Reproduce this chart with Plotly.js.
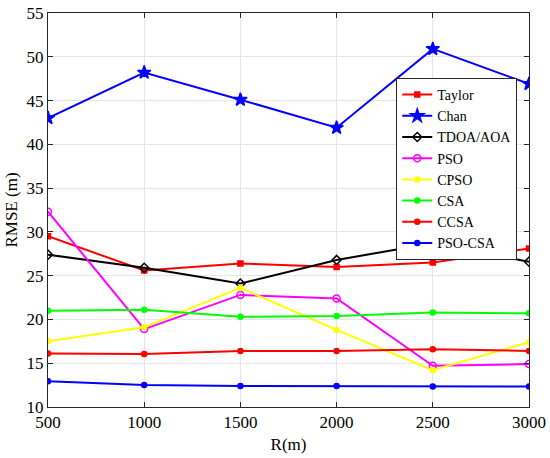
<!DOCTYPE html>
<html><head><meta charset="utf-8">
<script src="https://cdn.plot.ly/plotly-3.0.1.min.js"></script>
<style>html,body{margin:0;padding:0;background:#fff}#c{width:550px;height:458px}</style>
</head><body><div id="c"></div>
<script>
const R = [500, 1000, 1500, 2000, 2500, 3000];
const taylor = [29.5, 25.6, 26.4, 26.0, 26.5, 28.1];
const chan = [43.0, 48.2, 45.1, 41.9, 50.9, 46.9];
const tdoaAoa = [27.4, 25.9, 24.1, 26.8, 28.7, 26.6];
const pso = [32.3, 18.9, 22.8, 22.4, 14.7, 14.9];
const cpso = [17.5, 19.1, 23.6, 18.8, 14.2, 17.4];
const csa = [21.0, 21.1, 20.3, 20.4, 20.8, 20.7];
const ccsa = [16.1, 16.05, 16.4, 16.4, 16.6, 16.4];
const psoCsa = [12.95, 12.5, 12.4, 12.4, 12.35, 12.35];
const names = ['Taylor','Chan','TDOA/AOA','PSO','CPSO','CSA','CCSA','PSO-CSA'];

const styles = [
  {c:'#ff0000', s:'square', z:5},
  {c:'#0000ff', s:'star', z:10},
  {c:'#000000', s:'diamond-open', z:7},
  {c:'#ff00ff', s:'circle-open', z:7},
  {c:'#ffff00', s:'circle', z:5},
  {c:'#00ff00', s:'circle', z:5},
  {c:'#ff0000', s:'circle', z:5},
  {c:'#0000ff', s:'circle', z:5}
];
const series = [taylor, chan, tdoaAoa, pso, cpso, csa, ccsa, psoCsa];
const data = series.map((y,i)=>({
  x: R, y: y, name: names[i], type:'scatter', mode:'lines+markers',
  line:{color:styles[i].c, width:2},
  marker:{color:styles[i].c, symbol:styles[i].s, size:styles[i].z, line:{color:styles[i].c, width:1.5}}
}));
const F = '"Liberation Serif", "Times New Roman", Times, serif';
const ax = {
  showline:true, linecolor:'#262626', linewidth:1, mirror:'ticks',
  ticks:'inside', ticklen:5, tickcolor:'#262626',
  showgrid:true, gridcolor:'#e6e6e6', gridwidth:1, zeroline:false,
  tickfont:{family:F, size:17, color:'#000'}
};
const layout = {
  width:550, height:458,
  margin:{l:48, r:21, t:13, b:51},
  paper_bgcolor:'#fff', plot_bgcolor:'#fff',
  font:{family:F},
  xaxis: Object.assign({}, ax, {range:[500,3000], tickvals:R, ticktext:R.map(String),
    title:{text:'R(m)', font:{family:F, size:17, color:'#000'}, standoff:6}}),
  yaxis: Object.assign({}, ax, {range:[10,55], dtick:5,
    title:{text:'RMSE (m)', font:{family:F, size:17, color:'#000'}, standoff:4}}),
  legend:{x:0.724, y:0.835, xanchor:'left', yanchor:'top',
    bgcolor:'#fff', bordercolor:'#262626', borderwidth:1,
    font:{family:F, size:14, color:'#000'}, tracegroupgap:0, itemwidth:30},
  showlegend:true
};
Plotly.newPlot('c', data, layout, {displayModeBar:false, staticPlot:true});
</script></body></html>
